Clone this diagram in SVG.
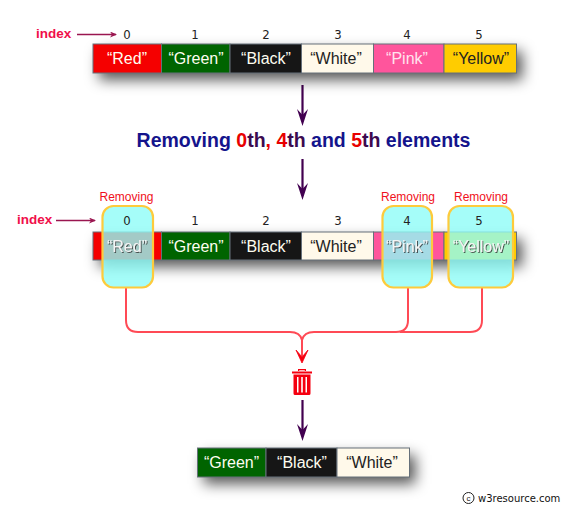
<svg xmlns="http://www.w3.org/2000/svg" width="565" height="506" viewBox="0 0 565 506">
<style>
text{font-family:"Liberation Sans",Arial,sans-serif}
.v{font-size:16px;text-anchor:middle}
.l{fill:#fffdf0}.d{fill:#222}
.i{font-size:13px;text-anchor:middle;fill:#222;font-family:"DejaVu Sans Condensed","DejaVu Sans",sans-serif}
.r{font-size:12px;text-anchor:middle;fill:#f01020}
.x{font-size:13.5px;font-weight:bold;fill:#f0104a}
.c{stroke:#66707a;stroke-width:1}
.a{fill:none;stroke:#420050;stroke-width:2.2}
.ah{fill:#420050}
.w{fill:none;stroke:#ff4a55;stroke-width:2}
.h{fill:#8ffcf8;fill-opacity:.8;stroke:#fdcb3c;stroke-width:2.2}
.t{fill:#f4f4f4}
.ts{filter:url(#ts)}
</style>
<defs>
<filter id="sh" x="-10%" y="-60%" width="125%" height="300%"><feGaussianBlur stdDeviation="7"/></filter>
<filter id="ts" x="-10%" y="-30%" width="120%" height="160%"><feDropShadow dx="1" dy="1" stdDeviation=".6" flood-color="#333" flood-opacity=".8"/></filter>
<g id="ar"><path class="a" d="M0 0V33"/><path class="ah" d="M-5.500 24 0 30 5.500 24 0 41Z"/></g>
<marker id="xm" markerWidth="7" markerHeight="6" refX="6" refY="3" orient="auto" markerUnits="userSpaceOnUse"><path d="M0 0 7 3 0 6 2 3Z" fill="#9a1650"/></marker>
</defs>

<g id="connectors">
<use href="#ar" x="302.500" y="85"/>
<use href="#ar" x="302.500" y="159"/>
<use href="#ar" x="302.500" y="400"/>
<path d="M77 34.500H116" fill="none" stroke="#9a1650" stroke-width="1.300" marker-end="url(#xm)"/>
<path d="M56 220.500H95" fill="none" stroke="#9a1650" stroke-width="1.300" marker-end="url(#xm)"/>
<path class="w" d="M126 288V320Q126 332 138 332H290Q300 332 302 340M408 288V320Q408 332 396 332H314Q304 332 302 340M482 288V320Q482 332 470 332H400"/>
<path class="w" d="M302 340V356"/>
<path d="M296 350 302 357 308 350 302 363Z" fill="#f50010" stroke="#f50010" stroke-width=".8"/>
</g>

<g id="array-top">
<rect x="93" y="44" width="423.500" height="29" fill="#000" fill-opacity=".65" filter="url(#sh)" transform="translate(6 7)"/>
<g id="top-0"><rect class="c" x="93" y="44" width="68.500" height="29" fill="#f50000"/><text class="v l" x="127" y="64">“Red”</text><text class="i" x="127" y="39">0</text></g>
<g id="top-1"><rect class="c" x="161.500" y="44" width="68.500" height="29" fill="#006400"/><text class="v l" x="196" y="64">“Green”</text><text class="i" x="195" y="39">1</text></g>
<g id="top-2"><rect class="c" x="230" y="44" width="71.500" height="29" fill="#161616"/><text class="v l" x="266" y="64">“Black”</text><text class="i" x="266" y="39">2</text></g>
<g id="top-3"><rect class="c" x="301.500" y="44" width="72" height="29" fill="#fff9ea"/><text class="v d" x="336" y="64">“White”</text><text class="i" x="338" y="39">3</text></g>
<g id="top-4"><rect class="c" x="373.500" y="44" width="70.500" height="29" fill="#ff559c"/><text class="v" style="fill:#ffe3ee" x="407" y="64">“Pink”</text><text class="i" x="407" y="39">4</text></g>
<g id="top-5"><rect class="c" x="444" y="44" width="72.500" height="29" fill="#ffcc00"/><text class="v d" x="481" y="64">“Yellow”</text><text class="i" x="479" y="39">5</text></g>
<text id="index-top" class="x" x="36" y="38">index</text>
</g>

<text id="title" x="303.500" y="147" text-anchor="middle" font-size="19.500" font-weight="bold" fill="#14148c">Removing <tspan fill="#e80000">0</tspan><tspan fill="#3c0a50">th</tspan><tspan fill="#e80000">, 4</tspan><tspan fill="#3c0a50">th</tspan> and <tspan fill="#e80000">5</tspan><tspan fill="#3c0a50">th</tspan> elements</text>

<g id="array-mid">
<rect x="93" y="232" width="423.500" height="28" fill="#000" fill-opacity=".65" filter="url(#sh)" transform="translate(6 7)"/>
<rect class="c" x="93" y="232" width="68.500" height="28" fill="#f50000"/>
<rect class="c" x="373.500" y="232" width="70.500" height="28" fill="#ff559c"/>
<rect class="c" x="444" y="232" width="72.500" height="28" fill="#ffcc00"/>
<g id="mid-1"><rect class="c" x="161.500" y="232" width="68.500" height="28" fill="#006400"/><text class="v l" x="196" y="252">“Green”</text><text class="i" x="195" y="225">1</text></g>
<g id="mid-2"><rect class="c" x="230" y="232" width="71.500" height="28" fill="#161616"/><text class="v l" x="266" y="252">“Black”</text><text class="i" x="266" y="225">2</text></g>
<g id="mid-3"><rect class="c" x="301.500" y="232" width="72" height="28" fill="#fff9ea"/><text class="v d" x="336" y="252">“White”</text><text class="i" x="338" y="225">3</text></g>
<text id="index-mid" class="x" x="17" y="224">index</text>
</g>

<g id="remove-0"><rect class="h" x="102.500" y="206" width="50.500" height="81.500" rx="11"/><text class="r" x="126.500" y="201">Removing</text><text class="i" x="127" y="225">0</text><text class="v t ts" x="127" y="252">“Red”</text></g>
<g id="remove-4"><rect class="h" x="382.500" y="206" width="49.500" height="81.500" rx="11"/><text class="r" x="408" y="201">Removing</text><text class="i" x="407" y="225">4</text><text class="v t ts" x="407" y="252">“Pink”</text></g>
<g id="remove-5"><rect class="h" x="448.500" y="206" width="64.500" height="81.500" rx="11"/><text class="r" x="481" y="201">Removing</text><text class="i" x="479" y="225">5</text><text class="v t ts" x="481" y="252">“Yellow”</text></g>

<g id="trash" fill="#f50010">
<rect x="292" y="371.500" width="20" height="2"/>
<path d="M298 371V369H306V371H304.800V370.200H299.200V371Z"/>
<path fill-rule="evenodd" d="M293.500 374.500H310.500V393.500Q310.500 395 309 395H295Q293.500 395 293.500 393.500ZM297 377V392.500H298.500V377ZM301.200 377V392.500H302.800V377ZM305.500 377V392.500H307V377Z"/>
</g>

<g id="array-bottom">
<rect x="197.500" y="448" width="212" height="29" fill="#000" fill-opacity=".65" filter="url(#sh)" transform="translate(6 7)"/>
<g id="bottom-0"><rect class="c" x="197.500" y="448" width="68.500" height="29" fill="#006400"/><text class="v l" x="231.500" y="468">“Green”</text></g>
<g id="bottom-1"><rect class="c" x="266" y="448" width="71" height="29" fill="#161616"/><text class="v l" x="302" y="468">“Black”</text></g>
<g id="bottom-2"><rect class="c" x="337" y="448" width="72.500" height="29" fill="#fff9ea"/><text class="v d" x="372" y="468">“White”</text></g>
</g>

<g id="credit">
<circle cx="468.500" cy="498" r="5.500" fill="none" stroke="#222" stroke-width="1"/>
<text x="468.500" y="500.500" text-anchor="middle" font-size="8" fill="#222">c</text>
<text x="478" y="501.500" font-size="10" fill="#111" style='font-family:"DejaVu Sans",sans-serif'>w3resource.com</text>
</g>
</svg>
